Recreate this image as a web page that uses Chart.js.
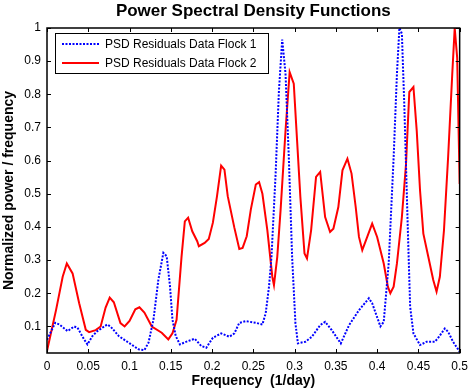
<!DOCTYPE html>
<html>
<head>
<meta charset="utf-8">
<script src="https://cdn.jsdelivr.net/npm/chart.js@4"></script>
<style>
  html, body { margin: 0; padding: 0; background: #fff; }
  #wrap { width: 474px; height: 392px; }
</style>
</head>
<body>
<div id="wrap"><canvas id="psdChart" width="474" height="392"></canvas></div>
<script>
// values
const seriesNames = ['PSD Residuals Data Flock 1', 'PSD Residuals Data Flock 2']

const blueFreq = [0, .010, .015, .025, .033, .037, .045, .049, .055, .061,
  .073, .077, .087, .099, .111, .118, .123, .129, .135, .141,
  .145, .149, .152, .156, .161, .171, .179, .187, .193, .201,
  .211, .221, .227, .233, .241, .253, .261, .265, .269, .272,
  .277, .281, .285, .289, .293, .297, .301, .304, .313, .321,
  .331, .337, .345, .356, .366, .378, .390, .394, .404, .408,
  .414, .420, .424, .427, .430, .433, .437, .440, .444, .452,
  .460, .470, .475, .482, .486, .492, .500]
const bluePower = [.06, .111, .106, .086, .10, .096, .061, .046, .071, .086,
  .106, .10, .071, .051, .031, .029, .051, .121, .242, .322,
  .312, .222, .121, .071, .046, .056, .063, .041, .036, .066,
  .079, .069, .079, .111, .116, .111, .106, .14, .22, .31,
  .56, .81, .965, .862, .61, .31, .11, .049, .054, .069,
  .104, .114, .089, .049, .104, .149, .185, .17, .10, .114,
  .29, .61, .862, 1.0, .983, .762, .41, .16, .079, .044,
  .054, .054, .069, .094, .084, .054, .024]

const redFreq = [0, .011, .019, .024, .031, .039, .047, .051, .059, .065,
  .071, .076, .081, .089, .094, .100, .107, .112, .118, .127,
  .139, .147, .152, .157, .163, .167, .171, .176, .182, .184,
  .191, .196, .201, .206, .211, .215, .219, .227, .233, .237,
  .242, .247, .253, .257, .261, .267, .273, .275, .279, .283,
  .289, .294, .299, .303, .307, .312, .315, .320, .326, .331,
  .337, .343, .347, .353, .358, .364, .369, .374, .378, .382,
  .394, .400, .408, .413, .416, .420, .424, .430, .435, .439,
  .444, .448, .452, .456, .462, .468, .472, .476, .481, .486,
  .491, .494, .497, .500]
const redPower = [.026, .15, .25, .29, .26, .17, .09, .083, .089, .10,
  .157, .187, .173, .11, .10, .117, .152, .158, .142, .10,
  .081, .061, .079, .12, .31, .417, .428, .387, .357, .342,
  .352, .364, .413, .493, .585, .573, .493, .398, .334, .337,
  .372, .453, .528, .535, .50, .39, .25, .225, .31, .45,
  .69, .867, .832, .661, .49, .32, .305, .39, .551, .566,
  .43, .385, .395, .46, .571, .606, .561, .461, .37, .33,
  .41, .37, .29, .22, .20, .22, .29, .43, .59, .807,
  .822, .69, .51, .38, .31, .24, .205, .25, .39, .61,
  .86, 1.0, .91, .53]

const xTicks = [0, 0.05, 0.1, 0.15, 0.2, 0.25, 0.3, 0.35, 0.4, 0.45, 0.5]
const yTicks = [0.1, 0.2, 0.3, 0.4, 0.5, 0.6, 0.7, 0.8, 0.9, 1]

const FONT = "'Liberation Sans', Arial, sans-serif"

function pts(xs, ys) {
  return xs.map((x, i) => ({x: x, y: ys[i]}))
}
const fmt = v => String(+Number(v).toFixed(2))

// matlab style box, inward ticks and legend drawn inside the axes
const matlabBox = {
  id: 'matlabBox',
  afterDraw(chart) {
    const c = chart.ctx
    const a = chart.chartArea
    const xs = chart.scales.x, ys = chart.scales.y
    const len = 4
    c.save()
    c.strokeStyle = '#000'
    c.lineWidth = 1
    c.beginPath()
    xTicks.forEach(t => {
      const px = Math.round(xs.getPixelForValue(t)) + 0.5
      c.moveTo(px, a.bottom); c.lineTo(px, a.bottom - len)
      c.moveTo(px, a.top); c.lineTo(px, a.top + len)
    })
    yTicks.forEach(t => {
      const py = Math.round(ys.getPixelForValue(t)) + 0.5
      c.moveTo(a.left, py); c.lineTo(a.left + len, py)
      c.moveTo(a.right, py); c.lineTo(a.right - len, py)
    })
    c.stroke()
    c.lineWidth = 1.5
    c.strokeRect(a.left, a.top, a.right - a.left, a.bottom - a.top)

    // legend
    const lx = 55, ly = 33, lw = 213, lh = 40
    c.fillStyle = '#fff'
    c.fillRect(lx, ly, lw, lh)
    c.lineWidth = 1
    c.strokeRect(lx + 0.5, ly + 0.5, lw, lh)
    c.font = '12px ' + FONT
    c.textBaseline = 'middle'
    chart.data.datasets.forEach((ds, i) => {
      const yy = ly + 11 + i * 19
      c.strokeStyle = ds.borderColor
      c.lineWidth = ds.borderWidth
      c.setLineDash(ds.borderDash || [])
      c.beginPath()
      c.moveTo(62, yy); c.lineTo(99, yy)
      c.stroke()
      c.setLineDash([])
      c.fillStyle = '#000'
      c.fillText(ds.label, 105, yy + 1)
    })
    c.restore()
  }
}

new Chart(document.getElementById('psdChart'), {
  type: 'line',
  data: {
    datasets: [
      {
        label: seriesNames[0],
        data: pts(blueFreq, bluePower),
        borderColor: '#0000ff',
        borderWidth: 2,
        borderDash: [2, 1.5],
        pointRadius: 0,
        tension: 0
      },
      {
        label: seriesNames[1],
        data: pts(redFreq, redPower),
        borderColor: '#ff0000',
        borderWidth: 2,
        pointRadius: 0,
        tension: 0
      }
    ]
  },
  options: {
    responsive: false,
    animation: false,
    layout: {padding: {left: 0, right: 11, top: 0, bottom: 0}},
    plugins: {
      legend: {display: false},
      tooltip: {enabled: false},
      title: {
        display: true,
        fullSize: false,
        text: 'Power Spectral Density Functions',
        color: '#000',
        font: {family: FONT, size: 17, weight: 'bold'},
        padding: {top: 1, bottom: 6.6}
      }
    },
    scales: {
      x: {
        type: 'linear',
        min: 0, max: 0.5,
        afterBuildTicks: s => { s.ticks = xTicks.map(v => ({value: v})) },
        afterFit: s => { s.height = 39 },
        grid: {display: false, drawTicks: false},
        border: {display: false},
        ticks: {
          color: '#000', padding: 6,
          font: {family: FONT, size: 12},
          maxRotation: 0,
          callback: fmt
        },
        title: {
          display: true,
          text: 'Frequency  (1/day)',
          color: '#000',
          font: {family: FONT, size: 14, weight: 'bold'},
          padding: {top: 0, bottom: 2}
        }
      },
      y: {
        min: 0.02, max: 1,
        afterBuildTicks: s => { s.ticks = yTicks.map(v => ({value: v})) },
        afterFit: s => { s.width = 47 },
        grid: {display: false, drawTicks: false},
        border: {display: false},
        ticks: {
          color: '#000', padding: 6,
          font: {family: FONT, size: 12},
          callback: fmt
        },
        title: {
          display: true,
          text: 'Normalized power / frequency',
          color: '#000',
          font: {family: FONT, size: 14, weight: 'bold'},
          padding: {top: 1, bottom: 0}
        }
      }
    }
  },
  plugins: [matlabBox]
})
</script>
</body>
</html>
